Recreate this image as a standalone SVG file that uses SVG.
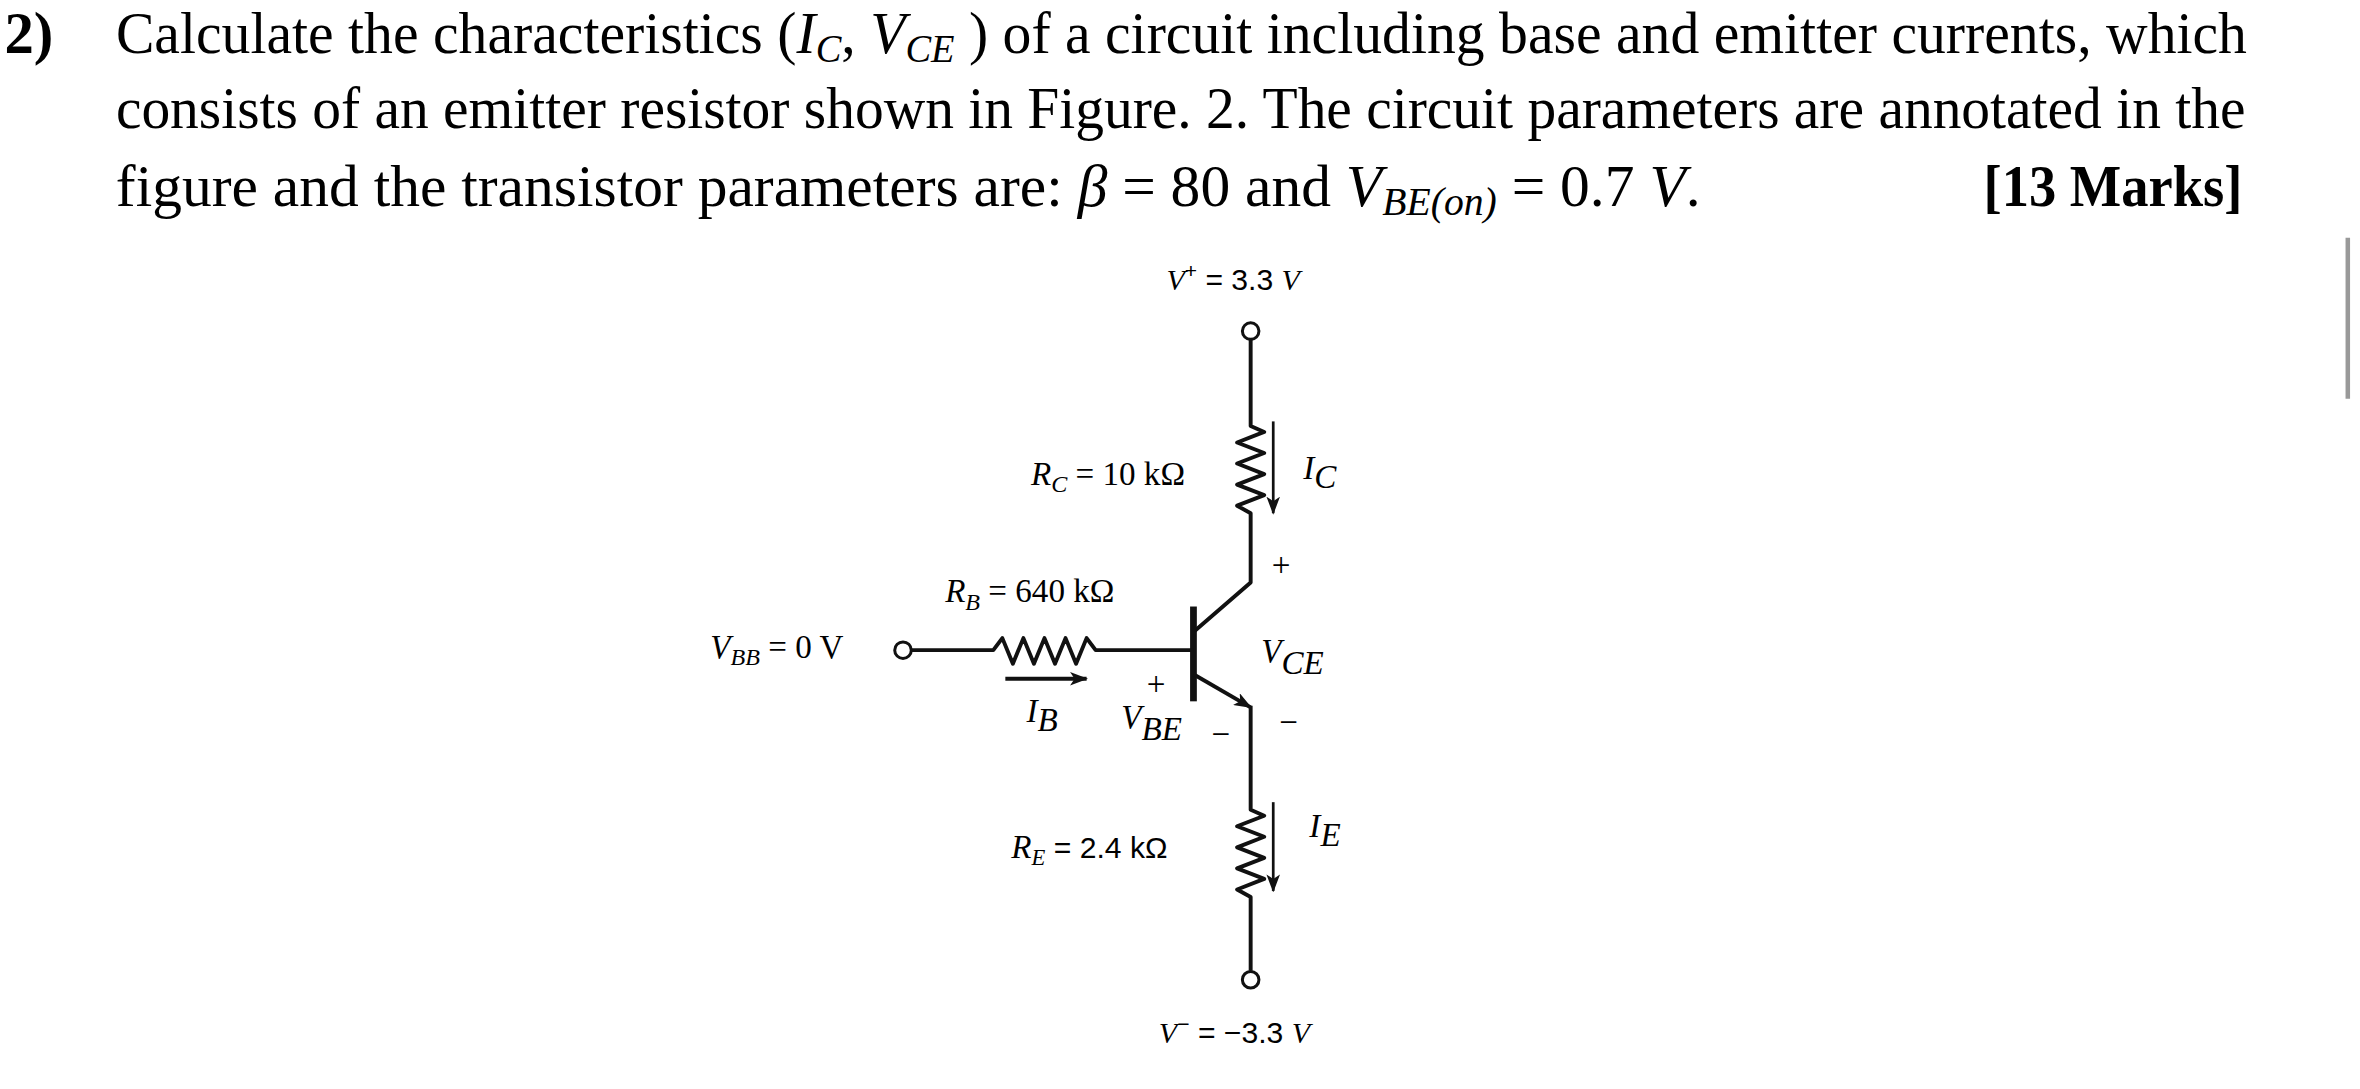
<svg xmlns="http://www.w3.org/2000/svg" width="2360" height="1089" viewBox="0 0 2360 1089">
<style>
.t{font-family:"Liberation Serif",serif;font-size:39px;fill:#000}
.l{font-family:"Liberation Serif",serif;font-size:22px;fill:#000}
.s{font-family:"Liberation Sans",sans-serif;font-size:20px;fill:#000}
.w{fill:none;stroke:#111;stroke-width:2.6;stroke-linejoin:round}
.a{fill:none;stroke:#111;stroke-width:1.8}
.i{font-style:italic}
</style>
<defs>
<marker id="ah" markerWidth="12" markerHeight="9" refX="11" refY="4.5" orient="auto" markerUnits="userSpaceOnUse"><path d="M0,0 L12,4.5 L0,9 L3,4.5 z" fill="#111"/></marker>
</defs>
<rect width="2360" height="1089" fill="#fff"/>
<g transform="scale(1.505)">
<g id="question">
<text class="t" x="3" y="35" font-weight="bold">2)</text>
<text class="t" x="77" y="35" textLength="1416" lengthAdjust="spacingAndGlyphs">Calculate the characteristics (<tspan class="i">I</tspan><tspan class="i" font-size="26" dy="6">C</tspan><tspan dy="-6">,  </tspan><tspan class="i">V</tspan><tspan class="i" font-size="26" dy="6">CE</tspan><tspan dy="-6"> ) of a circuit including base and emitter currents, which</tspan></text>
<text class="t" x="77" y="85" textLength="1415" lengthAdjust="spacingAndGlyphs">consists of an emitter resistor shown in Figure. 2. The circuit parameters are annotated in the</text>
<text class="t" x="77" y="137" textLength="1053" lengthAdjust="spacingAndGlyphs">figure and the transistor parameters are: <tspan class="i">β</tspan> = 80 and <tspan class="i">V</tspan><tspan class="i" font-size="26" dy="6">BE(on)</tspan><tspan dy="-6">  = 0.7 </tspan><tspan class="i">V</tspan>.</text>
<text class="t" x="1318" y="137" font-weight="bold" textLength="172" lengthAdjust="spacingAndGlyphs">[13 Marks]</text>
</g>
<line x1="1560" y1="158" x2="1560" y2="265" stroke="#999" stroke-width="3"/>
<g id="connectors">
<path class="w" d="M831,225 V283 L840,287 L822,294 L840,301 L822,308 L840,315 L822,322 L840,329 L822,336 L831,341 V387 L793,420"/>
<line x1="793" y1="403" x2="793" y2="466" stroke="#111" stroke-width="4.5"/>
<line class="w" x1="793" y1="448" x2="831" y2="470" marker-end="url(#ah)"/>
<path class="w" d="M831,469 V538 L840,542 L822,549 L840,556 L822,563 L840,570 L822,577 L840,584 L822,591 L831,596 V645"/>
<path class="w" d="M605,432 H660 L666,424 L673,441 L680,424 L687,441 L694,424 L701,441 L708,424 L715,441 L722,424 L728,432 H793"/>
<line class="w" x1="668" y1="451" x2="722" y2="451" marker-end="url(#ah)"/>
<line class="a" x1="846" y1="280" x2="846" y2="341" marker-end="url(#ah)"/>
<line class="a" x1="846" y1="533" x2="846" y2="592" marker-end="url(#ah)"/>
</g>
<g id="terminals" fill="#fff" stroke="#111" stroke-width="2">
<circle cx="831" cy="220" r="5.5"/>
<circle cx="600" cy="432" r="5.5"/>
<circle cx="831" cy="651" r="5.5"/>
</g>
<g id="labels">
<text class="s" x="775" y="193"><tspan class="i" font-family="Liberation Serif">V</tspan><tspan font-size="14" dy="-8">+</tspan><tspan dy="8"> = 3.3 </tspan><tspan class="i" font-family="Liberation Serif">V</tspan></text>
<text class="s" x="770" y="693"><tspan class="i" font-family="Liberation Serif">V</tspan><tspan font-size="14" dy="-8">−</tspan><tspan dy="8"> = −3.3 </tspan><tspan class="i" font-family="Liberation Serif">V</tspan></text>
<text class="l" x="685" y="322"><tspan class="i">R</tspan><tspan class="i" font-size="16" dy="5">C</tspan><tspan dy="-5"> = 10 kΩ</tspan></text>
<text class="l" x="628" y="400"><tspan class="i">R</tspan><tspan class="i" font-size="16" dy="5">B</tspan><tspan dy="-5"> = 640 kΩ</tspan></text>
<text class="l" x="472" y="437"><tspan class="i">V</tspan><tspan class="i" font-size="16" dy="5">BB</tspan><tspan dy="-5"> = 0 V</tspan></text>
<text class="s" x="672" y="570"><tspan class="i" font-family="Liberation Serif" font-size="22">R</tspan><tspan class="i" font-size="15" font-family="Liberation Serif" dy="5">E</tspan><tspan dy="-5"> = 2.4 kΩ</tspan></text>
<text class="l i" x="866" y="318" font-size="26">I<tspan font-size="22" dy="6">C</tspan></text>
<text class="l i" x="870" y="556" font-size="26">I<tspan font-size="22" dy="6">E</tspan></text>
<text class="l i" x="682" y="480" font-size="26">I<tspan font-size="22" dy="6">B</tspan></text>
<text class="l i" x="745" y="484" font-size="26">V<tspan font-size="22" dy="8">BE</tspan></text>
<text class="l i" x="838" y="440" font-size="26">V<tspan font-size="22" dy="8">CE</tspan></text>
<text class="l" x="762" y="462" font-size="21">+</text>
<text class="l" x="845" y="383" font-size="21">+</text>
<text class="l" x="805" y="495" font-size="21">−</text>
<text class="l" x="850" y="487" font-size="21">−</text>
</g>
</g>
</svg>
